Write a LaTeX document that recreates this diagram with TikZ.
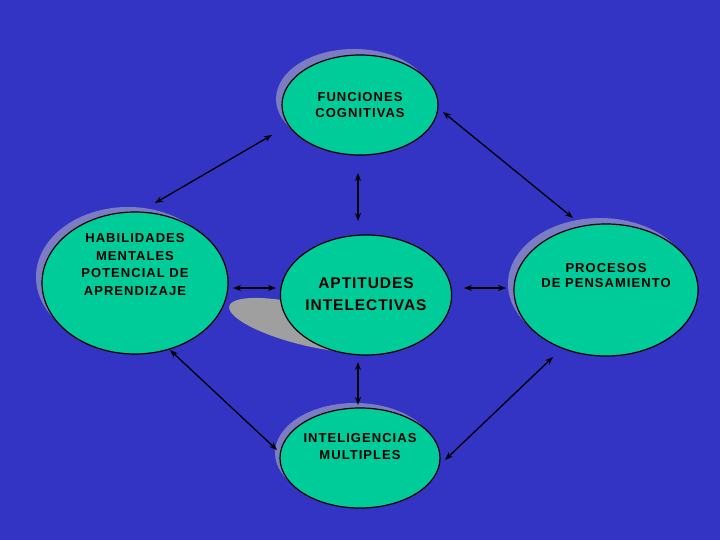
\documentclass[tikz,border=0pt]{standalone}
\usepackage{fontspec}
\setmainfont{Liberation Sans}
\usetikzlibrary{shapes.geometric,arrows.meta}
\definecolor{bg}{HTML}{3434C4}
\definecolor{fillg}{HTML}{00CC99}
\definecolor{shad}{HTML}{7C7CC4}
\begin{document}
\begin{tikzpicture}[x=1pt,y=-1pt,
  ell/.style={ellipse,draw=black,line width=1.2pt,fill=fillg,inner sep=0pt,align=center,font=\bfseries\fontsize{13}{15.5}\selectfont},
  shd/.style={fill=shad},
  conn/.style={{Stealth[length=8pt,width=6pt]}-{Stealth[length=8pt,width=6pt]},line width=1.3pt,black}]
\fill[bg] (0,0) rectangle (720,540);
\useasboundingbox (0,0) rectangle (720,540);
% shadows
\fill[shd] (354,99) ellipse [x radius=78,y radius=50];
\fill[shd] (128,277) ellipse [x radius=92,y radius=70];
\fill[shd] (600,284) ellipse [x radius=92,y radius=66];
\fill[shd] (355,453) ellipse [x radius=80,y radius=50];
\fill[gray!75, rotate around={-14:(305,325)}] (305,325) ellipse [x radius=78,y radius=20];
% nodes
\node[ell,minimum width=156,minimum height=100] (f) at (360,105) {\addfontfeature{LetterSpace=8}FUNCIONES\\\addfontfeature{LetterSpace=8}COGNITIVAS};
\node[ell,minimum width=186,minimum height=142,font=\bfseries\fontsize{13}{17.5}\selectfont] (h) at (135,283) {\addfontfeature{LetterSpace=8}HABILIDADES\\\addfontfeature{LetterSpace=8}MENTALES\\\addfontfeature{LetterSpace=8}POTENCIAL DE\\\addfontfeature{LetterSpace=8}APRENDIZAJE\\[20pt]};
\node[ell,minimum width=166,minimum height=120,font=\bfseries\fontsize{15.5}{22}\selectfont] (a) at (366,295) {\\[-12pt]\addfontfeature{LetterSpace=6}APTITUDES\\\addfontfeature{LetterSpace=6}INTELECTIVAS};
\node[ell,minimum width=184,minimum height=132] (p) at (606,290) {\addfontfeature{LetterSpace=8}PROCESOS\\\addfontfeature{LetterSpace=8}DE PENSAMIENTO\\[14pt]};
\node[ell,minimum width=160,minimum height=100,font=\bfseries\fontsize{13}{17.5}\selectfont] (i) at (360,458) {\addfontfeature{LetterSpace=8}INTELIGENCIAS\\\addfontfeature{LetterSpace=8}MULTIPLES\\[6pt]};
% connectors
\coordinate (f1) at (272,135); \coordinate (h1) at (155,203);
\coordinate (f2) at (443,112); \coordinate (p1) at (573,218);
\coordinate (f3) at (358,173); \coordinate (a1) at (358,221);
\coordinate (h2) at (233,288); \coordinate (a2) at (276,288);
\coordinate (a3) at (464,288); \coordinate (p2) at (506,288);
\coordinate (a4) at (358,362); \coordinate (i1) at (358,405);
\coordinate (h3) at (170,350); \coordinate (i2) at (277,450);
\coordinate (i3) at (445,460); \coordinate (p3) at (553,357);
\draw[conn] (f1) -- (h1);
\draw[conn] (f2) -- (p1);
\draw[conn] (f3) -- (a1);
\draw[conn] (h2) -- (a2);
\draw[conn] (a3) -- (p2);
\draw[conn] (a4) -- (i1);
\draw[conn] (h3) -- (i2);
\draw[conn] (i3) -- (p3);
\end{tikzpicture}
\end{document}
